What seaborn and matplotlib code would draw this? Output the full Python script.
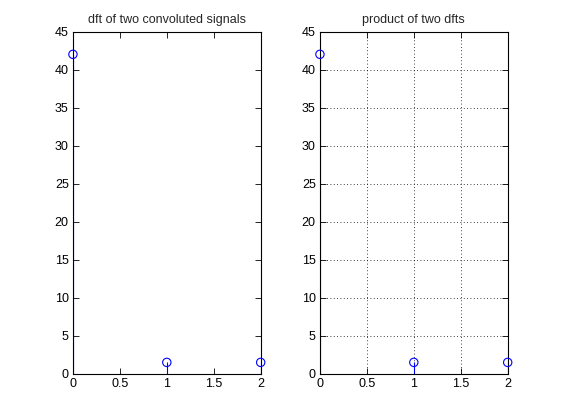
import matplotlib
matplotlib.use("Agg")
import matplotlib.pyplot as plt
import seaborn as sns
import pandas as pd
import numpy as np

n = [0, 1, 2]
dft_conv = [42.0, 1.5, 1.5]
dft_prod = [42.0, 1.5, 1.5]
titles = ["dft of two convoluted signals", "product of two dfts"]
xticks = [0, 0.5, 1, 1.5, 2]
yticks = list(range(0, 50, 5))

sns.set_style("white")
plt.rcParams['font.family'] = ['Liberation Sans', 'DejaVu Sans']

fig = plt.figure(figsize=(5.61, 4.2), dpi=100)
positions = [[0.13, 0.11, 0.3347, 0.815], [0.5703, 0.11, 0.3347, 0.815]]
series = [dft_conv, dft_prod]
grids = [False, True]

for pos, vals, title, grid in zip(positions, series, titles, grids):
    ax = fig.add_axes(pos)
    df = pd.DataFrame({"n": n, "v": vals})
    ax.vlines(df["n"], 0, df["v"], color=(0, 0, 1), lw=0.8, zorder=2)
    sns.scatterplot(data=df, x="n", y="v", ax=ax, marker="o", s=36,
                    facecolors="none", edgecolor=(0, 0, 1), linewidth=0.8,
                    zorder=4, clip_on=False)
    ax.set_xlim(0, 2)
    ax.set_ylim(0, 45)
    ax.set_xticks(xticks)
    ax.set_xticklabels(["0", "0.5", "1", "1.5", "2"])
    ax.set_yticks(yticks)
    ax.set_xlabel("")
    ax.set_ylabel("")
    ax.set_title(title, fontsize=9, pad=6)
    ax.tick_params(direction="in", length=4, width=0.6, labelsize=9,
                   top=True, right=True, bottom=True, left=True, pad=3,
                   colors="black")
    for s in ax.spines.values():
        s.set_visible(True)
        s.set_color("black")
        s.set_linewidth(0.8)
        s.set_zorder(3)
    if grid:
        ax.grid(True, color="black", linestyle=(0, (1, 3)), linewidth=0.6)
        ax.set_axisbelow(True)
    else:
        ax.grid(False)

fig.savefig("out.png", dpi=100, facecolor="white")
